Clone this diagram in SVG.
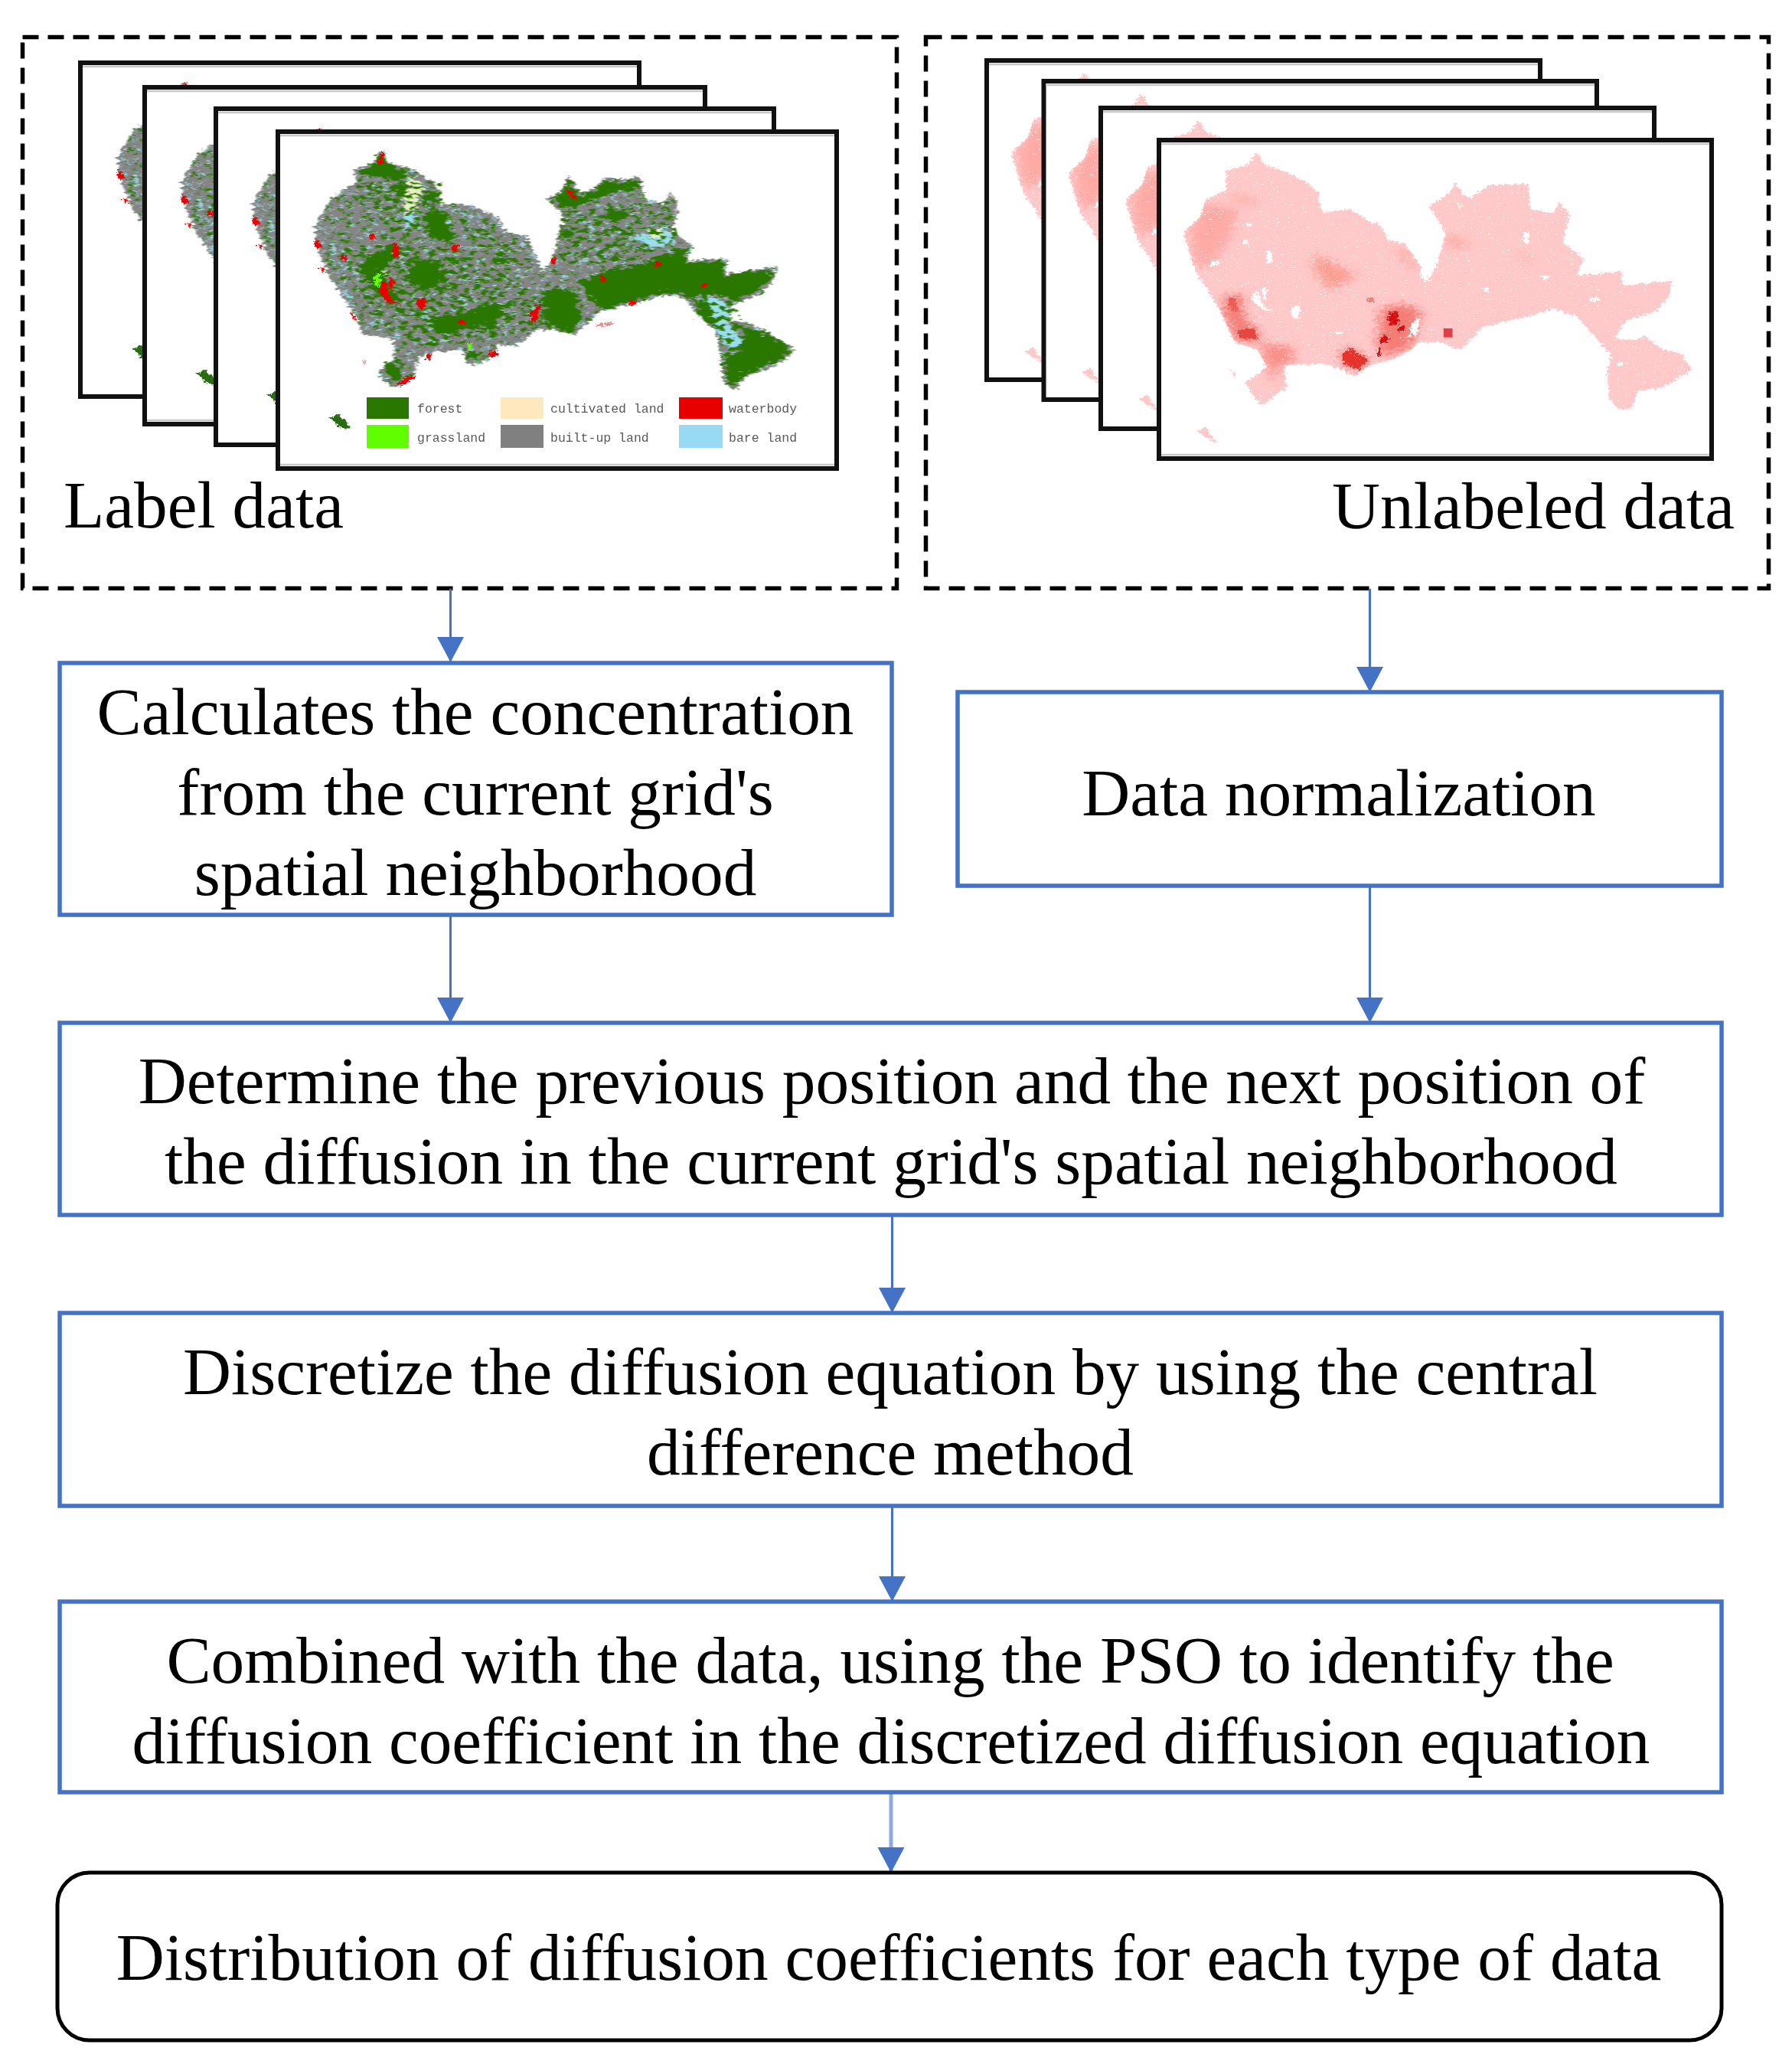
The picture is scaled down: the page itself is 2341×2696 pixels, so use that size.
<svg xmlns="http://www.w3.org/2000/svg" xmlns:xlink="http://www.w3.org/1999/xlink" width="2341" height="2696" viewBox="0 0 2341 2696">
<style>
.dash{fill:none;stroke:#000;stroke-width:5.5;stroke-dasharray:21 12}
.sheet{fill:#fff;stroke:#111;stroke-width:6}
.sh{fill:none;stroke:#c8c8c8;stroke-width:2.5}
.box{fill:#fff;stroke:#4472c4;stroke-width:5.5}
.end{fill:#fff;stroke:#000;stroke-width:5}
.con{fill:none;stroke:#4472c4;stroke-width:3;marker-end:url(#arr)}
text{font-family:"Liberation Serif","Times New Roman",serif;fill:#000}
.t{font-size:87.3px;text-anchor:middle}
.lab{font-size:87.3px}
.lg{font-family:"Liberation Mono",monospace;font-size:16.500px;fill:#5a5a5a;filter:url(#soft)}
.gn{fill:#2a7700}.rd{fill:#ea0000}.pl{fill:#e6f0c0}.cy{fill:#9adcf0}.lm{fill:#5fff00}
.gy{fill:#858585}
.pk{fill:#ffc9c9}
</style>
<defs>
<marker id="arr" markerUnits="userSpaceOnUse" markerWidth="36" markerHeight="36" refX="33" refY="17.5" orient="auto"><path d="M0,0L33,17.5L0,35Z" fill="#4472c4"/></marker>
<filter id="soft" x="-5%" y="-20%" width="110%" height="140%"><feGaussianBlur stdDeviation=".55"/></filter>
<filter id="mott" x="-3%" y="-3%" width="106%" height="106%" color-interpolation-filters="sRGB">
<feTurbulence type="fractalNoise" baseFrequency=".05 .07" numOctaves="4" seed="3" result="n1"/>
<feColorMatrix in="n1" type="matrix" values="0 0 0 0 .16  0 0 0 0 .47  0 0 0 0 0  12 0 0 0 -7.3"/>
<feComposite in2="SourceAlpha" operator="in" result="g"/>
<feTurbulence type="fractalNoise" baseFrequency=".06 .08" numOctaves="4" seed="11" result="n2"/>
<feColorMatrix in="n2" type="matrix" values="0 0 0 0 .62  0 0 0 0 .86  0 0 0 0 .92  12 0 0 0 -7.3"/>
<feComposite in2="SourceAlpha" operator="in" result="c"/>
<feMerge result="m"><feMergeNode in="SourceGraphic"/><feMergeNode in="c"/><feMergeNode in="g"/></feMerge>
<feTurbulence type="fractalNoise" baseFrequency=".09" numOctaves="3" seed="5" result="d"/>
<feDisplacementMap in="m" in2="d" scale="30" xChannelSelector="R" yChannelSelector="G"/>
<feGaussianBlur stdDeviation="2"/>
</filter>
<filter id="spk" x="-3%" y="-3%" width="106%" height="106%" color-interpolation-filters="sRGB">
<feTurbulence type="fractalNoise" baseFrequency=".045 .06" numOctaves="4" seed="21" result="n"/>
<feColorMatrix in="n" type="matrix" values="0 0 0 0 0  0 0 0 0 0  0 0 0 0 0  14 0 0 0 -7.7" result="mask"/>
<feComposite in="SourceGraphic" in2="mask" operator="in"/>
<feGaussianBlur stdDeviation="2"/>
</filter>
<filter id="rough" x="-6%" y="-6%" width="112%" height="112%" color-interpolation-filters="sRGB">
<feTurbulence type="fractalNoise" baseFrequency=".05 .065" numOctaves="4" seed="8" result="d"/>
<feDisplacementMap in="SourceGraphic" in2="d" scale="55" xChannelSelector="R" yChannelSelector="G"/>
<feGaussianBlur stdDeviation="2"/>
</filter>
<filter id="heat" x="-10%" y="-10%" width="120%" height="120%" color-interpolation-filters="sRGB">
<feGaussianBlur stdDeviation="15" result="b"/>
<feTurbulence type="fractalNoise" baseFrequency=".07 .09" numOctaves="3" seed="4" result="d"/>
<feDisplacementMap in="b" in2="d" scale="45" xChannelSelector="R" yChannelSelector="G"/>
<feGaussianBlur stdDeviation="1.500"/>
</filter>
<filter id="edge" x="-3%" y="-3%" width="106%" height="106%" color-interpolation-filters="sRGB">
<feTurbulence type="fractalNoise" baseFrequency=".11" numOctaves="3" seed="2" result="d"/>
<feDisplacementMap in="SourceGraphic" in2="d" scale="24" xChannelSelector="R" yChannelSelector="G"/>
<feGaussianBlur stdDeviation="1.500"/>
</filter>
<filter id="whitespk" x="-3%" y="-3%" width="106%" height="106%" color-interpolation-filters="sRGB">
<feTurbulence type="fractalNoise" baseFrequency=".12 .16" numOctaves="2" seed="31" result="n"/>
<feColorMatrix in="n" type="matrix" values="0 0 0 0 1  0 0 0 0 1  0 0 0 0 1  14 0 0 0 -10" result="mask"/>
<feComposite in2="SourceAlpha" operator="in"/>
<feGaussianBlur stdDeviation="1.500"/>
</filter>
<clipPath id="clipB"><path d="M270,30L295,80L350,100L415,145L445,180L460,265L540,250L600,300L630,310L650,370L700,385L745,470L745,510L765,535L790,480L820,340L770,235L825,195L845,145L885,210L950,155L1060,150L1065,250L1135,265L1150,225L1180,270L1160,380L1220,440L1200,510L1330,495L1335,550L1480,530L1470,590L1430,650L1340,690L1310,760L1380,760L1395,745L1450,800L1505,815L1535,880L1450,950L1380,960L1360,1030L1325,1035L1295,990L1290,880L1300,820L1260,760L1200,670L1130,640L1060,670L990,690L930,710L860,800L800,770L740,770L720,800L660,840L600,860L555,905L520,880L470,855L350,860L355,950L280,1020L235,930L300,870L270,800L205,770L160,640L90,490L55,340L105,280L120,215L180,170L180,95L240,80Z"/></clipPath>

<g id="mapA">
<path class="gy" filter="url(#mott)" d="M265,50L285,100L350,120L420,180L440,260L525,265L600,310L625,370L685,385L720,480L735,525L760,480L790,340L795,310L745,240L790,205L810,150L840,215L880,205L915,155L960,165L1015,150L1030,240L1085,260L1105,215L1130,260L1110,370L1170,420L1150,485L1210,475L1270,475L1265,535L1415,505L1400,570L1370,610L1290,650L1270,710L1340,730L1400,770L1470,830L1440,870L1380,910L1320,940L1290,990L1260,960L1250,850L1240,760L1180,690L1145,625L1090,615L1000,650L950,665L900,680L860,730L830,770L770,755L720,750L680,790L650,820L600,810L590,855L545,890L510,880L500,830L420,840L370,860L360,935L310,975L280,965L250,920L300,870L300,790L210,770L180,680L110,540L75,430L70,345L120,235L190,170L185,125L235,100Z"/>
<g filter="url(#rough)">
<path class="cy" d="M1185,640L1215,620L1265,640L1270,720L1300,770L1330,800L1280,830L1240,760ZM140,560L170,640L190,700L170,620ZM330,300L365,290L355,360L325,340ZM1000,390L1090,350L1120,400L1050,430ZM1130,540L1165,540L1160,590L1130,590Z"/>
<path class="pl" d="M325,260L350,150L385,190L365,270L340,300ZM1045,360L1085,350L1075,400L1050,395ZM235,490L280,520L265,550L240,535Z"/>
</g>
<path class="gn" filter="url(#spk)" d="M190,170L440,170L440,400L300,400L250,300L190,250ZM150,420L480,420L700,600L720,750L400,830L220,700ZM790,290L1100,250L1130,400L1000,480L800,500L770,430ZM1150,620L1290,640L1340,800L1260,900L1240,760ZM480,300L620,400L700,520L560,460Z"/>
<g filter="url(#rough)">
<path class="gn" d="M835,570L900,525L1000,505L1060,475L1110,440L1160,430L1145,490L1210,485L1260,485L1260,540L1400,515L1390,565L1360,600L1290,640L1230,610L1170,630L1145,615L1090,605L1000,640L950,655L905,670L865,620Z"/>
<path class="gn" d="M730,610L780,580L825,610L850,700L825,760L770,745L735,720Z"/>
<path class="gn" d="M1325,740L1400,780L1460,830L1430,865L1375,900L1320,930L1290,975L1265,950L1260,860L1305,835Z"/>
<path class="gn" d="M1180,640L1210,640L1250,740L1235,750L1185,690Z"/>
<path class="gn" d="M755,240L790,215L810,160L840,225L880,215L915,165L960,175L1005,160L1010,200L930,215L860,260L800,275Z"/>
<path class="gn" d="M262,60L280,105L340,125L330,160L300,170L270,150L210,150L195,130L240,105Z"/>
<ellipse class="gn" cx="395" cy="535" rx="55" ry="58"/>
<path class="gn" d="M400,710L520,680L590,645L630,695L560,725L460,770L410,755Z"/>
<path class="gn" d="M385,290L445,285L475,385L465,415L405,385Z"/>
<path class="gn" d="M195,500L290,420L330,425L260,530L325,640L285,650L225,560Z"/>
<path class="gn" d="M300,175L325,165L345,235L312,235Z"/>
<path class="gn" d="M390,205L420,200L430,255L400,270Z"/>
<path class="gn" d="M920,290L980,280L970,320L930,330Z"/>
<path class="gn" d="M275,880L315,880L325,945L285,950Z"/>
<path class="gn" d="M515,835L555,845L540,880L520,870Z"/>
<path class="gn" d="M590,460L640,470L620,500L590,490Z"/>
<path class="gn" d="M565,650L610,650L595,750L555,770Z"/>
<path class="gn" d="M790,360L830,370L810,400L790,390Z"/>
</g>
<g filter="url(#edge)">
<path class="lm" d="M240,540L262,530L262,585L245,580ZM515,805L530,805L528,825L515,822Z"/>
<path class="rd" d="M262,55L272,55L268,105L252,100ZM800,205L815,205L835,240L820,240ZM296,415L312,415L315,470L298,470ZM260,565L275,560L290,630L325,655L280,645L255,600ZM285,545L300,550L295,600L288,590ZM365,630L395,630L385,675L370,670ZM695,690L730,640L720,710L705,730ZM470,420L490,420L485,445L465,440ZM230,375L245,375L243,395L230,395ZM145,465L165,460L160,480L145,480ZM70,395L90,420L90,435L70,430ZM80,500L105,525L90,525ZM175,680L190,710L180,715ZM395,850L410,850L405,870L392,868ZM580,835L602,835L600,858L582,858ZM310,960L340,935L365,935L330,965L310,972ZM985,640L1005,640L1005,655L985,655ZM1060,485L1078,485L1075,505L1060,505ZM900,540L915,540L915,565L902,565ZM1195,570L1215,570L1205,585L1195,585ZM490,715L510,715L510,728L490,728ZM760,470L775,470L765,495L755,495Z"/>
<path fill="#e88" d="M890,730L935,722L935,735L890,738Z"/>
</g>
<path fill="#2a6a10" filter="url(#edge)" d="M112,1098L138,1085L160,1110L175,1142L150,1140Z"/>
<path fill="#e8a0a0" filter="url(#edge)" d="M208,868L222,875L218,888L208,880Z"/>
</g>

<g id="mapB">
<path class="pk" filter="url(#edge)" d="M270,30L295,80L350,100L415,145L445,180L460,265L540,250L600,300L630,310L650,370L700,385L745,470L745,510L765,535L790,480L820,340L770,235L825,195L845,145L885,210L950,155L1060,150L1065,250L1135,265L1150,225L1180,270L1160,380L1220,440L1200,510L1330,495L1335,550L1480,530L1470,590L1430,650L1340,690L1310,760L1380,760L1395,745L1450,800L1505,815L1535,880L1450,950L1380,960L1360,1030L1325,1035L1295,990L1290,880L1300,820L1260,760L1200,670L1130,640L1060,670L990,690L930,710L860,800L800,770L740,770L720,800L660,840L600,860L555,905L520,880L470,855L350,860L355,950L280,1020L235,930L300,870L270,800L205,770L160,640L90,490L55,340L105,280L120,215L180,170L180,95L240,80Z"/>
<path class="pk" filter="url(#edge)" d="M95,1120L120,1105L155,1165L130,1150ZM190,875L212,900L205,905Z"/>
<g clip-path="url(#clipB)"><g filter="url(#heat)">
<path fill="#ffaaa5" d="M115,225L215,250L190,370L135,470L90,470L75,340Z"/>
<path fill="#ffb5b0" d="M190,180L280,210L250,240L200,220Z"/>
<path fill="#fb9f94" d="M435,420L560,510L480,570L440,490Z"/>
<path fill="#ffaca5" d="M825,345L895,385L850,410L820,380Z"/>
<path fill="#ffb0aa" d="M665,400L715,410L745,500L700,460Z"/>
<path fill="#ffb5b0" d="M1030,420L1075,440L1050,470Z"/>
<path fill="#f98f88" d="M280,775L375,790L375,855L330,860L320,935L300,870Z"/>
<path fill="#f47d76" d="M630,640L700,620L750,650L720,790L640,830L620,770Z"/>
<path fill="#f47d76" d="M175,590L225,580L235,680L270,720L280,770L210,770L170,650Z"/>
<path fill="#f47d76" d="M515,810L540,790L600,840L565,885L520,860Z"/>
</g></g>
<g filter="url(#edge)">
<path fill="#e8453f" d="M210,725L265,715L275,760L220,755Z"/>
<path fill="#ee5c55" d="M185,595L205,595L215,650L192,645Z"/>
<path fill="#d90f0f" d="M652,655L680,650L680,705L655,700ZM632,748L652,745L650,775L630,775ZM682,708L700,708L698,728L682,725ZM620,790L632,790L630,825L620,825Z"/>
<path fill="#e6332c" d="M520,815L540,795L595,840L565,880L522,855Z"/>
<path fill="#f28078" d="M590,595L610,595L610,615L590,615Z"/>
<path fill="#fff" d="M296,415L312,415L315,460L300,460ZM255,580L270,570L290,630L325,655L290,645L255,610ZM285,555L298,555L296,610L288,600ZM370,630L398,630L388,685L370,670ZM135,460L160,450L155,470L135,472ZM230,370L245,370L245,388L230,388ZM720,700L745,670L735,740L712,745ZM1045,340L1060,340L1060,385L1045,385ZM850,215L865,240L860,250ZM500,728L520,728L520,742L500,742ZM1100,512L1120,512L1120,524L1100,524ZM930,558L945,558L945,572L930,572ZM1240,595L1265,595L1265,610L1240,610ZM1320,850L1335,850L1335,865L1320,865ZM240,305L252,305L252,318L240,318Z"/>
</g>
<g clip-path="url(#clipB)"><rect x="50" y="30" width="1490" height="1010" fill="#000" filter="url(#whitespk)"/></g>
<rect x="813" y="717" width="26" height="35" fill="#e23c48"/>
</g>
</defs>

<g id="label-data">
<rect class="dash" x="29.500" y="48.500" width="1142" height="720"/>
<rect class="sheet" x="105" y="82" width="730" height="436"/>
<path class="sh" d="M108,87H832"/>
<use href="#mapA" transform="translate(122.500 90) scale(.4487 .3333)"/>
<rect class="sheet" x="189" y="114" width="732" height="440"/>
<path class="sh" d="M192,119H918M192,549H280"/>
<use href="#mapA" transform="translate(206 122) scale(.4487 .3333)"/>
<rect class="sheet" x="282" y="142" width="729" height="439"/>
<path class="sh" d="M285,147H1008"/>
<use href="#mapA" transform="translate(299 150) scale(.4487 .3333)"/>
<rect class="sheet" x="363" y="172" width="730" height="440"/>
<path class="sh" d="M366,177H1090M366,607H1090"/>
<use href="#mapA" transform="translate(380 180) scale(.4487 .3333)"/>
<g id="legend">
<rect x="479" y="519" width="55" height="28" fill="#2a7700"/>
<rect x="479" y="555" width="55" height="30" fill="#5fff00"/>
<rect x="654" y="519" width="56" height="28" fill="#ffe8bd"/>
<rect x="654" y="555" width="56" height="30" fill="#808080"/>
<rect x="887" y="519" width="57" height="28" fill="#e80000"/>
<rect x="887" y="555" width="57" height="30" fill="#98daf3"/>
<text class="lg" x="545" y="539">forest</text>
<text class="lg" x="545" y="577">grassland</text>
<text class="lg" x="719" y="539">cultivated land</text>
<text class="lg" x="719" y="577">built-up land</text>
<text class="lg" x="952" y="539">waterbody</text>
<text class="lg" x="952" y="577">bare land</text>
</g>
<text class="lab" x="83" y="689">Label data</text>
</g>

<g id="unlabeled-data">
<rect class="dash" x="1209.500" y="48.500" width="1101" height="720"/>
<rect class="sheet" x="1289" y="79" width="723" height="417"/>
<path class="sh" d="M1292,84H2009"/>
<use href="#mapB" transform="translate(1296 86) scale(.4487 .3333)"/>
<rect class="sheet" x="1363.500" y="106" width="722.500" height="416"/>
<path class="sh" d="M1366,111H2083"/>
<use href="#mapB" transform="translate(1370.500 113) scale(.4487 .3333)"/>
<rect class="sheet" x="1438" y="141" width="723" height="419"/>
<path class="sh" d="M1441,146H2158"/>
<use href="#mapB" transform="translate(1445 148) scale(.4487 .3333)"/>
<rect class="sheet" x="1514" y="183" width="722" height="416"/>
<path class="sh" d="M1517,188H2233M1517,594H2233"/>
<use href="#mapB" transform="translate(1521 190) scale(.4487 .3333)"/>
<text class="lab" x="1740" y="690">Unlabeled data</text>
</g>

<g id="connectors">
<path class="con" d="M588.500,769V865"/>
<path class="con" d="M1789.500,769V904"/>
<path class="con" d="M588.500,1195V1336"/>
<path class="con" d="M1789.500,1157V1336"/>
<path class="con" d="M1165.500,1587V1715"/>
<path class="con" d="M1165.500,1967V2092"/>
<path class="con" style="stroke:#8faadc;stroke-width:5" d="M1164,2341V2446"/>
</g>

<g id="concentration">
<rect class="box" x="78" y="866" width="1087" height="329"/>
<text class="t" x="621" y="959">Calculates the concentration</text>
<text class="t" x="621" y="1064">from the current grid's</text>
<text class="t" x="621" y="1169">spatial neighborhood</text>
</g>
<g id="normalization">
<rect class="box" x="1251" y="904" width="998" height="253"/>
<text class="t" x="1749" y="1065">Data normalization</text>
</g>
<g id="positions">
<rect class="box" x="78" y="1336" width="2171" height="251"/>
<text class="t" x="1165" y="1441">Determine the previous position and the next position of</text>
<text class="t" x="1164" y="1546">the diffusion in the current grid's spatial neighborhood</text>
</g>
<g id="discretize">
<rect class="box" x="78" y="1715" width="2171" height="252"/>
<text class="t" x="1163" y="1821">Discretize the diffusion equation by using the central</text>
<text class="t" x="1163" y="1926">difference method</text>
</g>
<g id="pso">
<rect class="box" x="78" y="2092" width="2171" height="249"/>
<text class="t" x="1163" y="2198">Combined with the data, using the PSO to identify the</text>
<text class="t" x="1164" y="2303">diffusion coefficient in the discretized diffusion equation</text>
</g>
<g id="result">
<rect class="end" x="75" y="2446" width="2174" height="219" rx="42"/>
<text class="t" x="1161" y="2586">Distribution of diffusion coefficients for each type of data</text>
</g>
</svg>
